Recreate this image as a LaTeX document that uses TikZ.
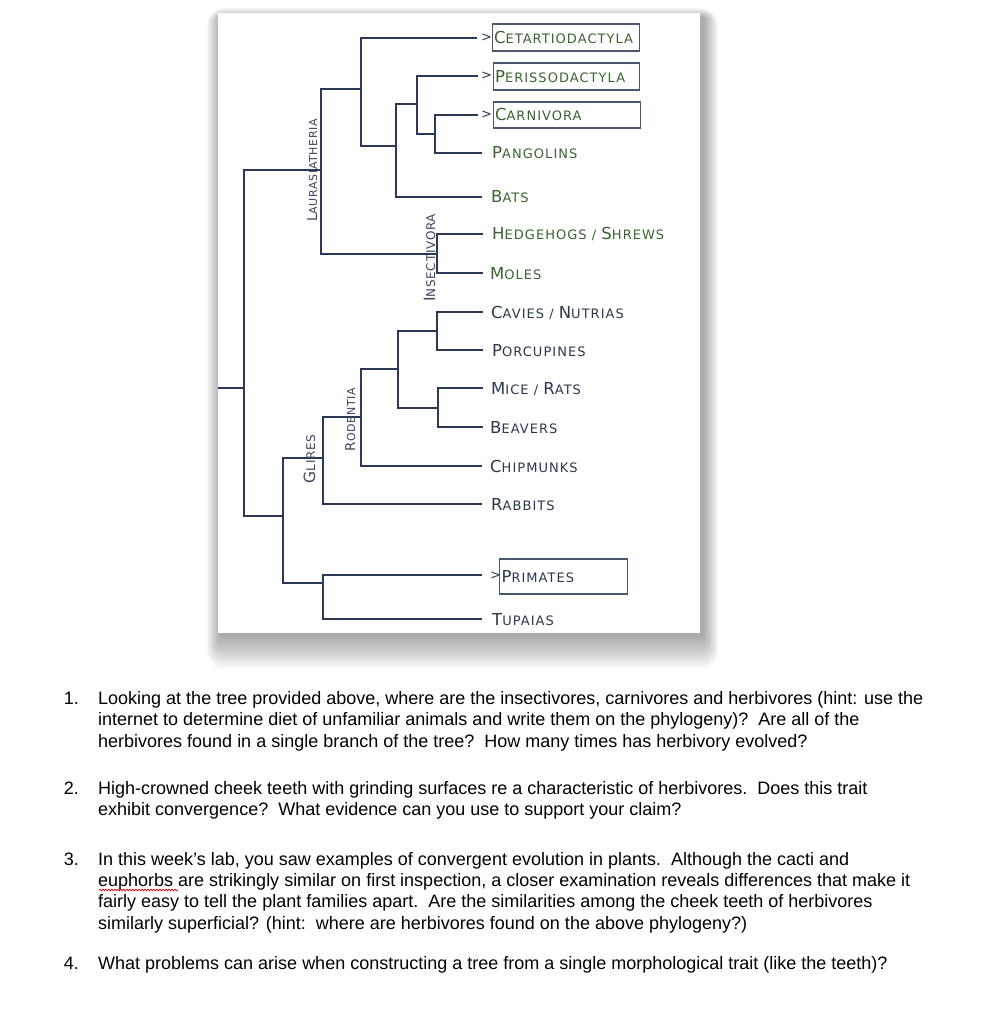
\documentclass[tikz,border=0pt]{standalone}
\usepackage{fontspec}
\usetikzlibrary{decorations.pathmorphing}
\setmainfont{Liberation Sans}
\newfontfamily\labfont[LetterSpace=8]{DejaVu Sans}
\newfontfamily\vlabfont[LetterSpace=6]{DejaVu Sans}
\definecolor{navy}{HTML}{2B3858}
\definecolor{lgreen}{HTML}{3A6432}
\definecolor{ltext}{HTML}{2C374D}
\definecolor{boxc}{HTML}{4B5670}
\definecolor{vtext}{HTML}{3C4660}
\newcommand\lbA{\fontsize{16.5}{16.5}\selectfont}
\newcommand\lbB{\fontsize{13}{13}\selectfont}
\newcommand\Lsc[2]{{\lbA#1}{\lbB#2}}
\newcommand\Msc[2]{{\fontsize{15.5}{16}\selectfont#1}{\fontsize{12}{12}\selectfont#2}}
\newcommand\Ssc[2]{{\fontsize{13.5}{14}\selectfont#1}{\fontsize{11}{11}\selectfont#2}}
\begin{document}
\begin{tikzpicture}[x=1pt,y=-1pt,
  tree/.style={draw=navy, line width=2pt},
  leafG/.style={anchor=west, inner sep=0pt, font=\labfont, text=lgreen, text height=12pt, text depth=0pt},
  leafN/.style={anchor=west, inner sep=0pt, font=\labfont, text=ltext, text height=12pt, text depth=0pt},
  boxed/.style={anchor=west, draw=boxc, line width=1.1pt, inner xsep=1.5pt, inner ysep=0pt, align=left, text height=12pt, text depth=0pt, font=\labfont},
  gtmark/.style={anchor=west, inner sep=0pt, font=\lbB\labfont, text=ltext, text height=8pt, text depth=0pt},
  vlab/.style={rotate=90, anchor=base, inner sep=0pt, font=\vlabfont, text=vtext},
  qline/.style={anchor=base west, inner sep=0pt, font=\fontsize{18}{21}\selectfont},
  qnum/.style={anchor=base east, inner sep=0pt, font=\fontsize{18}{21}\selectfont}]
\useasboundingbox (0,0) rectangle (1005,1024);
\fill[white] (0,0) rectangle (1005,1024);
% soft shadow of the panel
\foreach \i in {1,...,18}{
  \fill[black, opacity=0.018, rounded corners=\i pt]
    ({218-\i*0.8+3},{13-\i*0.55+5}) rectangle ({700+\i*0.85+3},{633+\i*1.9+2});
}
\fill[white] (218,13) rectangle (700,633);

% ---- labels ----
\node[gtmark] (g1) at (481,38) {>};
\node[boxed, text width=144pt, minimum height=27pt, text=lgreen] (cet) at (492,37.5) {\Lsc{C}{ETARTIODACTYLA}};
\node[gtmark] (g2) at (481,76) {>};
\node[boxed, text width=143pt, minimum height=27pt, text=lgreen] (per) at (493,76.5) {\Lsc{P}{ERISSODACTYLA}};
\node[gtmark] (g3) at (481,115) {>};
\node[boxed, text width=144pt, minimum height=26pt, text=lgreen] (car) at (493,115) {\Lsc{C}{ARNIVORA}};
\node[leafG] (pan) at (492,153) {\Lsc{P}{ANGOLINS}};
\node[leafG] (bat) at (491,197) {\Lsc{B}{ATS}};
\node[leafG] (hed) at (492,234) {\Lsc{H}{EDGEHOGS / }\Lsc{S}{HREWS}};
\node[leafG] (mol) at (490,273) {\Lsc{M}{OLES}};
\node[leafN] (cav) at (491,312) {\Lsc{C}{AVIES / }\Lsc{N}{UTRIAS}};
\node[leafN] (por) at (492,350) {\Lsc{P}{ORCUPINES}};
\node[leafN] (mic) at (491,388) {\Lsc{M}{ICE / }\Lsc{R}{ATS}};
\node[leafN] (bea) at (490,427) {\Lsc{B}{EAVERS}};
\node[leafN] (chi) at (490,466) {\Lsc{C}{HIPMUNKS}};
\node[leafN] (rab) at (491,504) {\Lsc{R}{ABBITS}};
\node[gtmark] (g4) at (490,575) {>};
\node[boxed, text width=124pt, minimum height=35pt, text=ltext, inner xsep=2pt] (pri) at (499,576.5) {\Lsc{P}{RIMATES}};
\node[leafN] (tup) at (492,619) {\Lsc{T}{UPAIAS}};

% ---- internal nodes ----
\coordinate (root) at (218,388);
\coordinate (n0) at (244,388);
\coordinate (L) at (321,170);
\coordinate (A) at (361,89);
\coordinate (B) at (396,146);
\coordinate (C) at (417,104);
\coordinate (D) at (435,134);
\coordinate (I) at (437,254);
\coordinate (E) at (283,516);
\coordinate (G) at (323,458);
\coordinate (R) at (361,417);
\coordinate (R2) at (398,369);
\coordinate (R3) at (437,331);
\coordinate (R4) at (438,408);
\coordinate (P) at (323,583);

% ---- tree ----
\draw[tree] (root) -- (n0);
\draw[tree] (n0) |- (L);
\draw[tree] (n0) |- (E);
\draw[tree] (L) |- (A);
\draw[tree] (L) |- (I);
\draw[tree, shorten >=4pt] (A) |- (g1.west);
\draw[tree] (A) |- (B);
\draw[tree] (B) |- (C);
\draw[tree, shorten >=9pt] (B) |- (bat.west);
\draw[tree, shorten >=3pt] (C) |- (g2.west);
\draw[tree] (C) |- (D);
\draw[tree, shorten >=3pt] (D) |- (g3.west);
\draw[tree, shorten >=10pt] (D) |- (pan.west);
\draw[tree, shorten >=9pt] (I) |- (hed.west);
\draw[tree, shorten >=7pt] (I) |- (mol.west);
\draw[tree] (E) |- (G);
\draw[tree] (E) |- (P);
\draw[tree] (G) |- (R);
\draw[tree, shorten >=9pt] (G) |- (rab.west);
\draw[tree] (R) |- (R2);
\draw[tree, shorten >=8pt] (R) |- (chi.west);
\draw[tree] (R2) |- (R3);
\draw[tree] (R2) |- (R4);
\draw[tree, shorten >=8pt] (R3) |- (cav.west);
\draw[tree, shorten >=9pt] (R3) |- (por.west);
\draw[tree, shorten >=8pt] (R4) |- (mic.west);
\draw[tree, shorten >=7pt] (R4) |- (bea.west);
\draw[tree, shorten >=8pt] (P) |- (g4.west);
\draw[tree, shorten >=10pt] (P) |- (tup.west);

% ---- clade labels ----
\node[vlab] (lau) at (317,170.5) {\Ssc{L}{AURASIATHERIA}};
\node[vlab] (ins) at (435,258) {\Msc{I}{NSECTIVORA}};
\node[vlab] (rod) at (355,419.5) {\Ssc{R}{ODENTIA}};
\node[vlab] (gli) at (315,459) {\Msc{G}{LIRES}};

% ---- questions ----
\node[qnum] (n1) at (79,704) {1.};
\node[qline] (q1a) at (98,704) {Looking at the tree provided above, where are the insectivores, carnivores and herbivores (hint: use the};
\node[qline] (q1b) at (98,725.5) {internet to determine diet of unfamiliar animals and write them on the phylogeny)?\ \ Are all of the};
\node[qline] (q1c) at (98,747) {herbivores found in a single branch of the tree?\ \ How many times has herbivory evolved?};
\node[qnum] (n2) at (79,794) {2.};
\node[qline] (q2a) at (98,794) {High-crowned cheek teeth with grinding surfaces re a characteristic of herbivores.\ \ Does this trait};
\node[qline] (q2b) at (98,815) {exhibit convergence?\ \ What evidence can you use to support your claim?};
\node[qnum] (n3) at (79,865) {3.};
\node[qline] (q3a) at (98,865) {In this week’s lab, you saw examples of convergent evolution in plants.\ \ Although the cacti and};
\node[qline] (q3b) at (98,886) {euphorbs are strikingly similar on first inspection, a closer examination reveals differences that make it};
\node[qline] (q3c) at (98,907.5) {fairly easy to tell the plant families apart.\ \ Are the similarities among the cheek teeth of herbivores};
\node[qline] (q3d) at (98,929) {similarly superficial? (hint:\ \ where are herbivores found on the above phylogeny?)};
\node[qnum] (n4) at (79,969) {4.};
\node[qline] (q4) at (98,969) {What problems can arise when constructing a tree from a single morphological trait (like the teeth)?};
\draw[red!85!black, line width=0.7pt, decorate, decoration={snake, amplitude=0.9pt, segment length=3pt}] (99,890) -- (178,890);
\end{tikzpicture}
\end{document}
